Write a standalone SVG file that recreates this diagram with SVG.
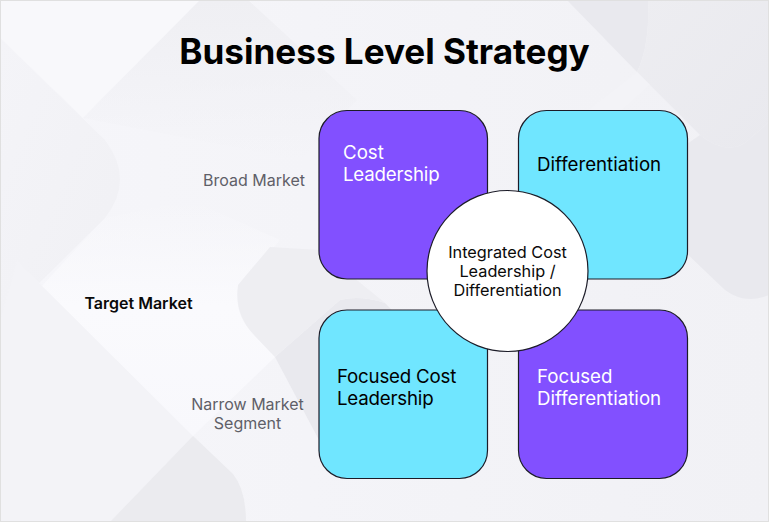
<svg xmlns="http://www.w3.org/2000/svg" width="769" height="522" viewBox="0 0 769 522">
<style>
.t{font-family:"Inter","Liberation Sans",sans-serif}
.box{stroke:#1c1c28;stroke-width:1.2}
.p{fill:#8250ff}
.c{fill:#70e6ff}
.l{font-size:18.7px}
.s{font-size:16px;fill:#5f5f68}
</style>
<defs>
<linearGradient id="bg" x1="0" y1="0" x2="1" y2="0"><stop offset="0" stop-color="#f6f6fa"/><stop offset="1" stop-color="#f1f1f5"/></linearGradient>
<linearGradient id="d1" x1="0" y1="0" x2="1" y2="1"><stop offset="0" stop-color="#ededf1"/><stop offset="1" stop-color="#e9e9ee"/></linearGradient>
<linearGradient id="d2" x1="0" y1="0" x2="1" y2="1"><stop offset="0" stop-color="#f4f4f8"/><stop offset="1" stop-color="#f0f0f4"/></linearGradient>
<linearGradient id="fadeDown" x1="0" y1="0" x2="0" y2="1"><stop offset="0" stop-color="#efeff3"/><stop offset="1" stop-color="#efeff3" stop-opacity="0"/></linearGradient>
<linearGradient id="bright" x1="0" y1="0" x2="0" y2="1"><stop offset="0" stop-color="#fafafd" stop-opacity="0"/><stop offset=".45" stop-color="#fafafd"/><stop offset="1" stop-color="#f8f8fc"/></linearGradient>
</defs>
<g id="background">
<rect width="769" height="522" fill="url(#bg)"/>
<path d="M0 0H200L83 118L0 38Z" fill="#f8f8fb"/>
<path d="M200 0H248L357 100L300 160L83 118Z" fill="url(#fadeDown)"/>
<path d="M0 38L105 140Q135 180 105 218L0 322Z" fill="url(#d2)"/>
<path d="M567 0H648Q650 45 637 72Z" fill="#e9e9ee"/>
<path d="M648 0H769V122L745 143Q725 155 700 135L637 72Q650 45 648 0Z" fill="url(#d1)"/>
<path d="M700 135Q725 155 745 143L769 122V295Q745 305 725 290L620 190Z" fill="#e9e9ee"/>
<path d="M575 120L637 72L650 85L595 135Z" fill="#f3f3f7"/>
<path d="M17 261L193 436L110 522H0V320Z" fill="#f3f3f7"/>
<path d="M65 261L105 218L190 200L280 240L238 290Q234 315 255 336L275 357L193 436L17 261L42 286Z" fill="url(#bright)"/>
<path d="M193 436L233 474Q246 490 246 522H110Z" fill="#ebebef"/>
<path d="M275 357L340 300Q360 295 385 303L430 350V420L319 440Z" fill="#e9e9ee"/>
<path d="M270 247L238 285Q234 315 255 336L275 357L340 300Q360 295 385 303L320 250Z" fill="#eeeef2"/>
<rect x="0.5" y="0.5" width="768" height="521" fill="none" stroke="#e0e0e0"/>
</g>
<g id="connectors"/>
<text id="title" class="t" x="384.500" y="64" text-anchor="middle" font-size="35.100" font-weight="700" fill="#000">Business Level Strategy</text>
<g id="label-broad"><text class="t s" x="305" y="186" text-anchor="end">Broad Market</text></g>
<g id="label-target"><text class="t" x="138.500" y="308.500" text-anchor="middle" font-size="16" font-weight="600" fill="#0a0a0a">Target Market</text></g>
<g id="label-narrow"><text class="t s" text-anchor="middle"><tspan x="247.500" y="410">Narrow Market</tspan><tspan x="247.500" y="429">Segment</tspan></text></g>
<g id="node-cost">
<rect class="box p" x="319" y="110.500" width="168.500" height="168.500" rx="28"/>
<text class="t l" fill="#fff"><tspan x="343" y="159">Cost</tspan><tspan x="343" y="181" letter-spacing="-.2">Leadership</tspan></text>
</g>
<g id="node-diff">
<rect class="box c" x="518.500" y="110.500" width="169" height="168.500" rx="28"/>
<text class="t l" fill="#000" x="537" y="171">Differentiation</text>
</g>
<g id="node-focused-cost">
<rect class="box c" x="319" y="310" width="168.500" height="168.500" rx="28"/>
<text class="t l" fill="#000"><tspan x="337" y="383" letter-spacing="-.2">Focused Cost</tspan><tspan x="337" y="405" letter-spacing="-.2">Leadership</tspan></text>
</g>
<g id="node-focused-diff">
<rect class="box p" x="518.500" y="310" width="169" height="168.500" rx="28"/>
<text class="t l" fill="#fff"><tspan x="537" y="383">Focused</tspan><tspan x="537" y="405">Differentiation</tspan></text>
</g>
<g id="node-integrated">
<circle cx="507.500" cy="271" r="80.500" fill="#fff" stroke="#1c1c28" stroke-width="1.200"/>
<text class="t" font-size="16.300" fill="#0a0a0a" text-anchor="middle"><tspan x="507.500" y="258">Integrated Cost</tspan><tspan x="507.500" y="277">Leadership /</tspan><tspan x="507.500" y="296">Differentiation</tspan></text>
</g>
</svg>
